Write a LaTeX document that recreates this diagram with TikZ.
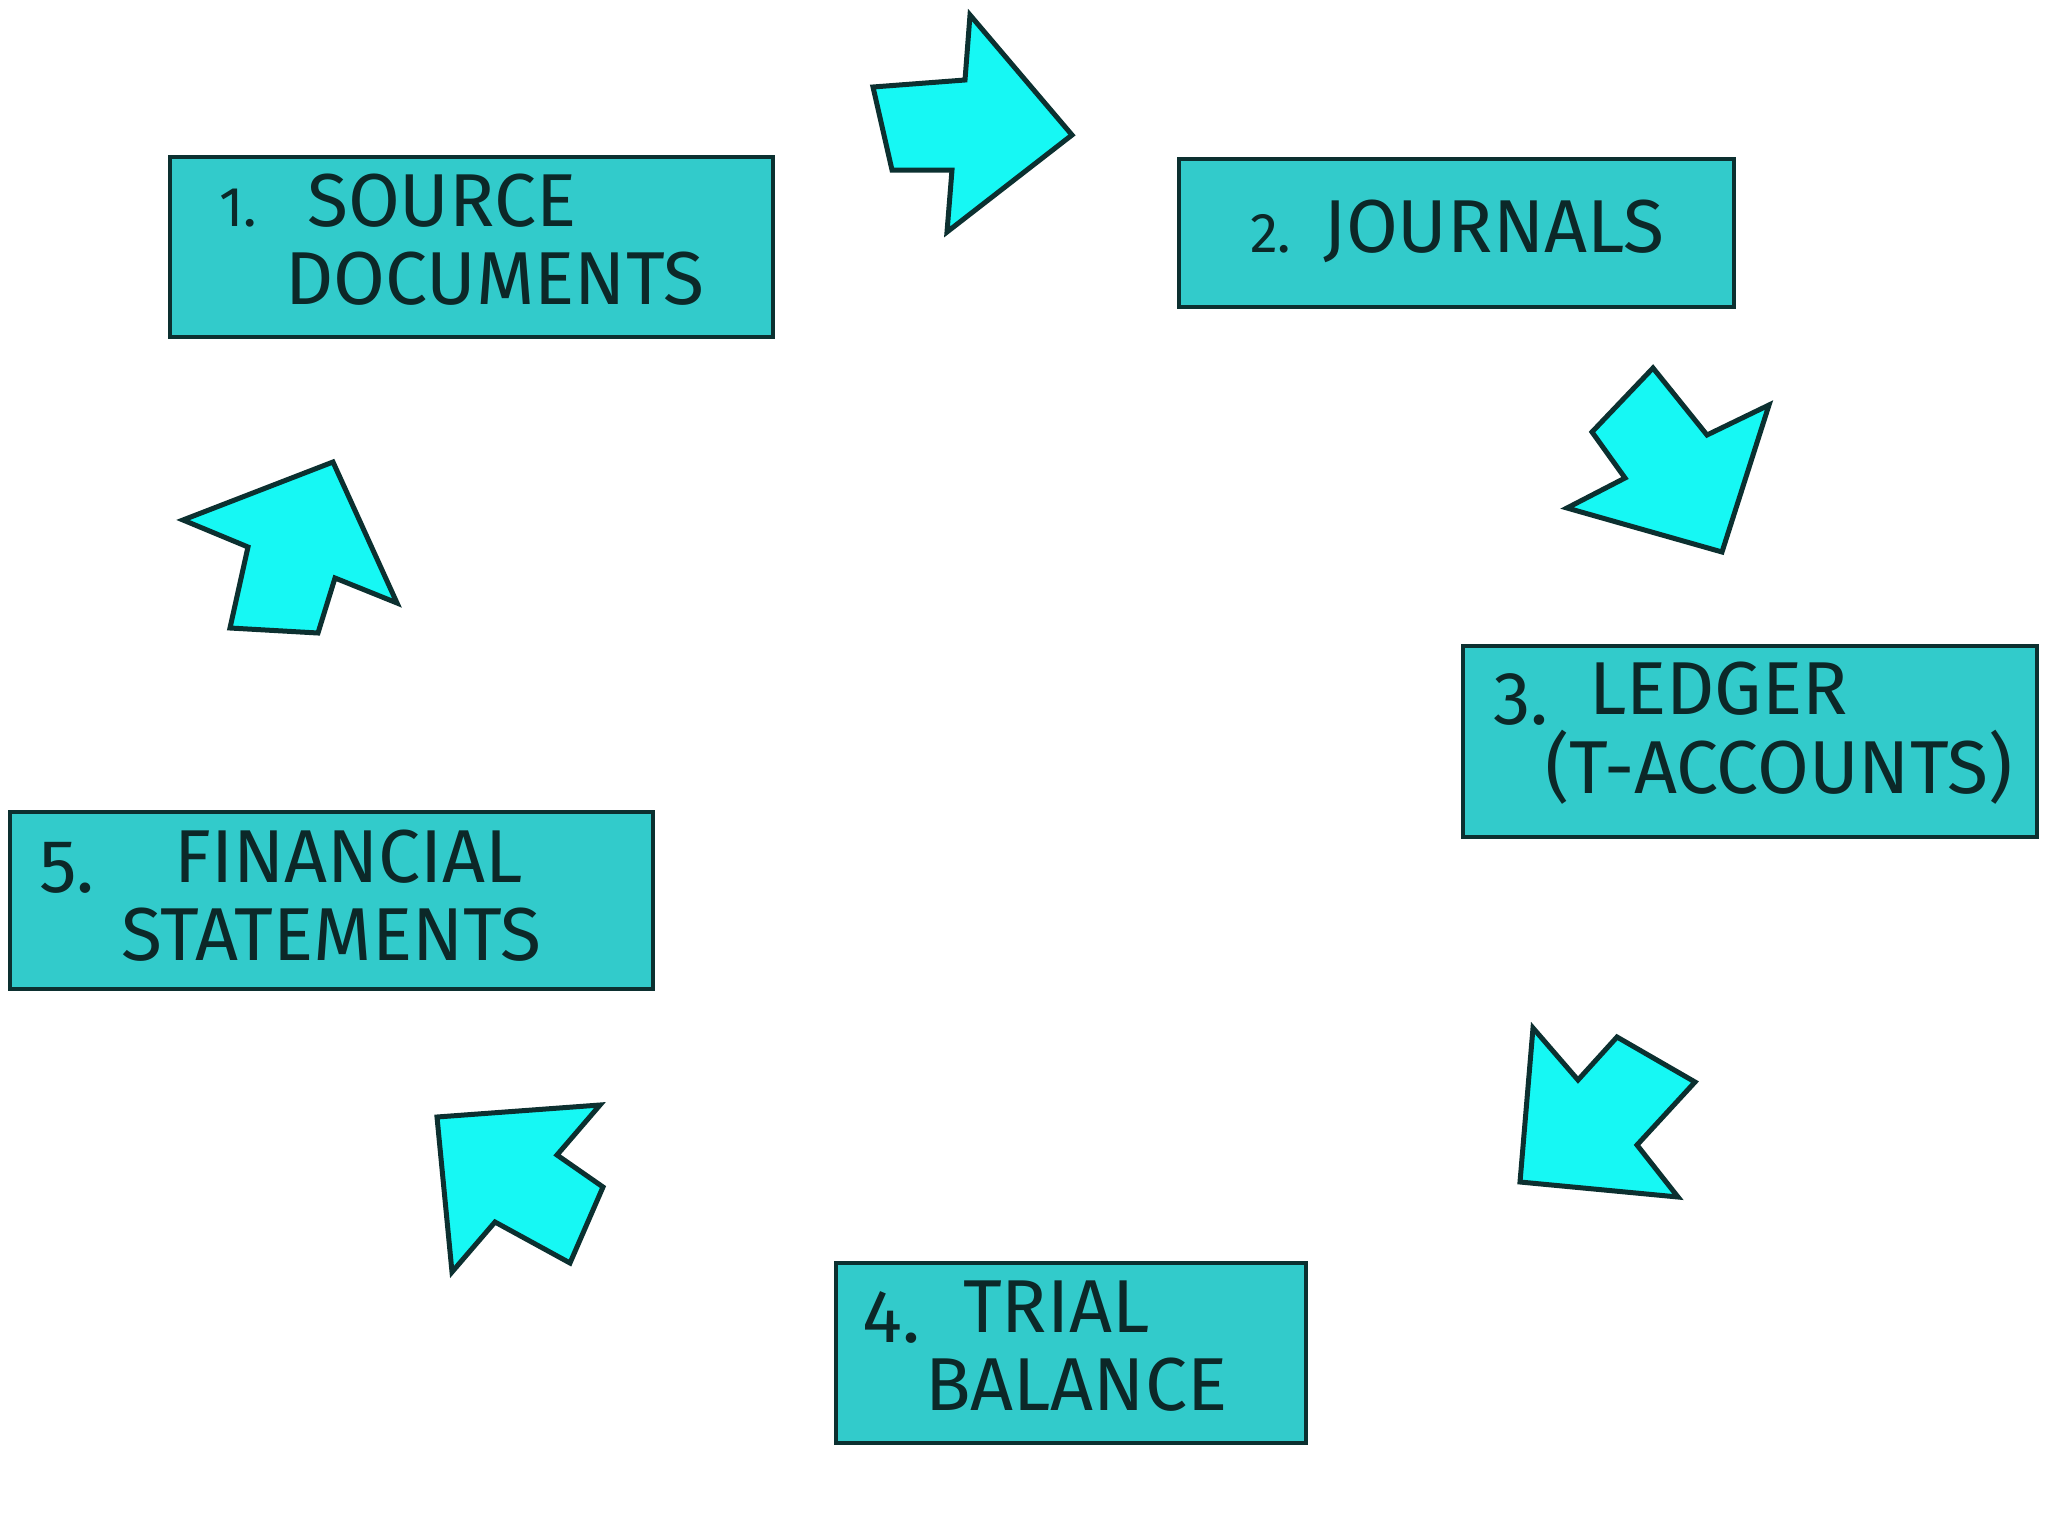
\documentclass[tikz,border=0pt]{standalone}
\usepackage{fontspec}
\setmainfont{Fira Sans}
\definecolor{boxfill}{RGB}{50,203,203}
\definecolor{arrowfill}{RGB}{22,248,244}
\definecolor{edge}{RGB}{12,48,48}
\definecolor{ink}{RGB}{12,40,40}
\tikzset{
  stepbox/.style={draw=edge, fill=boxfill, line width=4pt, inner sep=0pt},
  lbl/.style={anchor=base west, inner sep=0pt, text=ink, font=\fontsize{75}{80}\selectfont},
  smallnum/.style={lbl, font=\fontsize{56}{60}\selectfont},
  blockarrow/.style={draw=edge, fill=arrowfill, line width=5pt, line join=miter}
}
\begin{document}
\begin{tikzpicture}[x=1pt,y=-1pt]
\useasboundingbox (0,0) rectangle (2048,1536);
\fill[white] (0,0) rectangle (2048,1536);
% boxes
\node[stepbox, minimum width=603pt, minimum height=180pt] (b1) at (471.5,247) {};
\node[stepbox, minimum width=555pt, minimum height=148pt] (b2) at (1456.5,233) {};
\node[stepbox, minimum width=574pt, minimum height=191pt] (b3) at (1750,741.5) {};
\node[stepbox, minimum width=470pt, minimum height=180pt] (b4) at (1071,1353) {};
\node[stepbox, minimum width=643pt, minimum height=177pt] (b5) at (331.5,900.5) {};
% labels
\node[smallnum] (n1) at (219,226) {1.};
\node[lbl] (t1a) at (307,226) {SOURCE};
\node[lbl] (t1b) at (285,304) {DOCUMENTS};
\node[smallnum] (n2) at (1250,252) {2.};
\node[lbl] (t2a) at (1323,252) {JOURNALS};
\node[lbl] (n3) at (1493,724) {3.};
\node[lbl] (t3a) at (1589,714) {LEDGER};
\node[lbl] (t3b) at (1545,793) {(T-ACCOUNTS)};
\node[lbl] (n4) at (862,1342) {4.};
\node[lbl] (t4a) at (963,1332) {TRIAL};
\node[lbl] (t4b) at (925,1410) {BALANCE};
\node[lbl] (n5) at (39,892) {5.};
\node[lbl] (t5a) at (174,882) {FINANCIAL};
\node[lbl] (t5b) at (121,960) {STATEMENTS};
% block arrows
\draw[blockarrow] (873,87) -- (965,80) -- (970,15) -- (1072,135) -- (947,232) -- (952,170) -- (892,170) -- cycle;
\draw[blockarrow] (1592,432) -- (1653,368) -- (1707,435) -- (1769,405) -- (1722,552) -- (1567,508) -- (1625,478) -- cycle;
\draw[blockarrow] (1533,1028) -- (1578,1080) -- (1617,1037) -- (1695,1082) -- (1637,1145) -- (1678,1197) -- (1520,1182) -- cycle;
\draw[blockarrow] (437,1117) -- (600,1105) -- (557,1155) -- (603,1187) -- (570,1263) -- (495,1222) -- (452,1272) -- cycle;
\draw[blockarrow] (183,520) -- (333,462) -- (397,603) -- (335,578) -- (318,633) -- (230,628) -- (248,547) -- cycle;
\end{tikzpicture}
\end{document}
